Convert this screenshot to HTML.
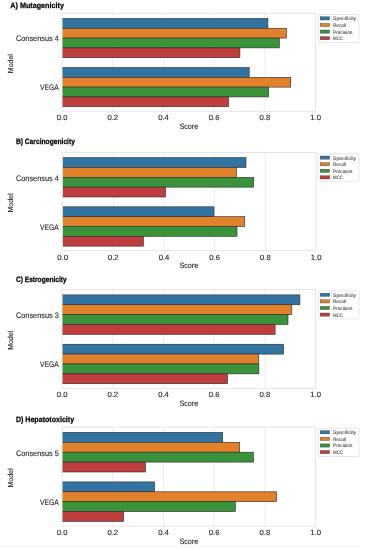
<!DOCTYPE html>
<html><head><meta charset="utf-8"><style>
html,body{margin:0;padding:0;background:#fff;width:365px;height:550px;overflow:hidden}
svg{display:block;font-family:"Liberation Sans", sans-serif;will-change:transform;text-rendering:geometricPrecision}
</style></head><body>
<svg width="365" height="550" viewBox="0 0 365 550">
<rect width="365" height="550" fill="#fff"/>
<line x1="112.80" y1="13.20" x2="112.80" y2="111.30" stroke="#ebebeb" stroke-width="0.9"/>
<line x1="163.50" y1="13.20" x2="163.50" y2="111.30" stroke="#ebebeb" stroke-width="0.9"/>
<line x1="214.20" y1="13.20" x2="214.20" y2="111.30" stroke="#ebebeb" stroke-width="0.9"/>
<line x1="264.90" y1="13.20" x2="264.90" y2="111.30" stroke="#ebebeb" stroke-width="0.9"/>
<clipPath id="cA"><rect x="62.10" y="11.20" width="258.50" height="102.10"/></clipPath>
<g clip-path="url(#cA)">
<rect x="60.10" y="18.45" width="207.80" height="9.81" fill="#3274a1" stroke="#2a2a2a" stroke-width="0.6"/>
<rect x="60.10" y="28.27" width="226.40" height="9.81" fill="#e1812c" stroke="#2a2a2a" stroke-width="0.6"/>
<rect x="60.10" y="38.07" width="219.20" height="9.81" fill="#3a923a" stroke="#2a2a2a" stroke-width="0.6"/>
<rect x="60.10" y="47.88" width="179.80" height="9.81" fill="#c03d3e" stroke="#2a2a2a" stroke-width="0.6"/>
<rect x="60.10" y="67.50" width="189.10" height="9.81" fill="#3274a1" stroke="#2a2a2a" stroke-width="0.6"/>
<rect x="60.10" y="77.31" width="230.60" height="9.81" fill="#e1812c" stroke="#2a2a2a" stroke-width="0.6"/>
<rect x="60.10" y="87.12" width="208.50" height="9.81" fill="#3a923a" stroke="#2a2a2a" stroke-width="0.6"/>
<rect x="60.10" y="96.94" width="168.50" height="9.81" fill="#c03d3e" stroke="#2a2a2a" stroke-width="0.6"/>
</g>
<rect x="62.10" y="13.20" width="253.50" height="98.10" fill="none" stroke="#e0e0e0" stroke-width="0.8"/>
<text x="16.00" y="41.12" font-size="8.0" fill="#262626" stroke="#262626" stroke-width="0.12" textLength="42.8" lengthAdjust="spacingAndGlyphs">Consensus 4</text>
<text x="40.10" y="90.17" font-size="8.0" fill="#262626" stroke="#262626" stroke-width="0.12" textLength="18.7" lengthAdjust="spacingAndGlyphs">VEGA</text>
<text x="56.75" y="120.10" font-size="7.6" fill="#262626" stroke="#262626" stroke-width="0.12" textLength="10.7" lengthAdjust="spacingAndGlyphs">0.0</text>
<text x="107.45" y="120.10" font-size="7.6" fill="#262626" stroke="#262626" stroke-width="0.12" textLength="10.7" lengthAdjust="spacingAndGlyphs">0.2</text>
<text x="158.15" y="120.10" font-size="7.6" fill="#262626" stroke="#262626" stroke-width="0.12" textLength="10.7" lengthAdjust="spacingAndGlyphs">0.4</text>
<text x="208.85" y="120.10" font-size="7.6" fill="#262626" stroke="#262626" stroke-width="0.12" textLength="10.7" lengthAdjust="spacingAndGlyphs">0.6</text>
<text x="259.55" y="120.10" font-size="7.6" fill="#262626" stroke="#262626" stroke-width="0.12" textLength="10.7" lengthAdjust="spacingAndGlyphs">0.8</text>
<text x="310.25" y="120.10" font-size="7.6" fill="#262626" stroke="#262626" stroke-width="0.12" textLength="10.7" lengthAdjust="spacingAndGlyphs">1.0</text>
<text x="179.45" y="128.70" font-size="7.8" fill="#262626" stroke="#262626" stroke-width="0.12" textLength="18.8" lengthAdjust="spacingAndGlyphs">Score</text>
<text transform="translate(13.10,73.15) rotate(-90)" x="0" y="0" font-size="7.3" fill="#262626" stroke="#262626" stroke-width="0.12" textLength="19.0" lengthAdjust="spacingAndGlyphs">Model</text>
<text x="10.30" y="8.20" font-size="7.8" font-weight="bold" fill="#000" stroke="#000" stroke-width="0.25" textLength="53.6" lengthAdjust="spacingAndGlyphs">A) Mutagenicity</text>
<rect x="318.1" y="14.50" width="40.9" height="28.1" rx="0.8" fill="#fff" stroke="#d8d8d8" stroke-width="0.6"/>
<rect x="320.2" y="16.80" width="9.4" height="3.2" fill="#3274a1" stroke="#333" stroke-width="0.35"/>
<text x="333.0" y="20.30" font-size="4.9" fill="#444" stroke="#444" stroke-width="0.08" textLength="23.2" lengthAdjust="spacingAndGlyphs">Specificity</text>
<rect x="320.2" y="23.40" width="9.4" height="3.2" fill="#e1812c" stroke="#333" stroke-width="0.35"/>
<text x="333.0" y="26.90" font-size="4.9" fill="#444" stroke="#444" stroke-width="0.08" textLength="12.8" lengthAdjust="spacingAndGlyphs">Recall</text>
<rect x="320.2" y="30.00" width="9.4" height="3.2" fill="#3a923a" stroke="#333" stroke-width="0.35"/>
<text x="333.0" y="33.50" font-size="4.9" fill="#444" stroke="#444" stroke-width="0.08" textLength="19.5" lengthAdjust="spacingAndGlyphs">Precision</text>
<rect x="320.2" y="36.60" width="9.4" height="3.2" fill="#c03d3e" stroke="#333" stroke-width="0.35"/>
<text x="333.0" y="40.10" font-size="4.9" fill="#444" stroke="#444" stroke-width="0.08" textLength="10.0" lengthAdjust="spacingAndGlyphs">MCC</text>
<line x1="113.30" y1="152.40" x2="113.30" y2="250.70" stroke="#ebebeb" stroke-width="0.9"/>
<line x1="164.00" y1="152.40" x2="164.00" y2="250.70" stroke="#ebebeb" stroke-width="0.9"/>
<line x1="214.70" y1="152.40" x2="214.70" y2="250.70" stroke="#ebebeb" stroke-width="0.9"/>
<line x1="265.40" y1="152.40" x2="265.40" y2="250.70" stroke="#ebebeb" stroke-width="0.9"/>
<clipPath id="cB"><rect x="62.60" y="150.40" width="258.50" height="102.30"/></clipPath>
<g clip-path="url(#cB)">
<rect x="60.60" y="157.66" width="185.40" height="9.83" fill="#3274a1" stroke="#2a2a2a" stroke-width="0.6"/>
<rect x="60.60" y="167.50" width="175.80" height="9.83" fill="#e1812c" stroke="#2a2a2a" stroke-width="0.6"/>
<rect x="60.60" y="177.32" width="193.10" height="9.83" fill="#3a923a" stroke="#2a2a2a" stroke-width="0.6"/>
<rect x="60.60" y="187.16" width="105.00" height="9.83" fill="#c03d3e" stroke="#2a2a2a" stroke-width="0.6"/>
<rect x="60.60" y="206.81" width="153.40" height="9.83" fill="#3274a1" stroke="#2a2a2a" stroke-width="0.6"/>
<rect x="60.60" y="216.64" width="184.10" height="9.83" fill="#e1812c" stroke="#2a2a2a" stroke-width="0.6"/>
<rect x="60.60" y="226.47" width="176.40" height="9.83" fill="#3a923a" stroke="#2a2a2a" stroke-width="0.6"/>
<rect x="60.60" y="236.31" width="82.80" height="9.83" fill="#c03d3e" stroke="#2a2a2a" stroke-width="0.6"/>
</g>
<rect x="62.60" y="152.40" width="253.50" height="98.30" fill="none" stroke="#e0e0e0" stroke-width="0.8"/>
<text x="16.00" y="180.78" font-size="8.0" fill="#262626" stroke="#262626" stroke-width="0.12" textLength="42.8" lengthAdjust="spacingAndGlyphs">Consensus 4</text>
<text x="40.10" y="229.93" font-size="8.0" fill="#262626" stroke="#262626" stroke-width="0.12" textLength="18.7" lengthAdjust="spacingAndGlyphs">VEGA</text>
<text x="57.25" y="260.00" font-size="7.6" fill="#262626" stroke="#262626" stroke-width="0.12" textLength="10.7" lengthAdjust="spacingAndGlyphs">0.0</text>
<text x="107.95" y="260.00" font-size="7.6" fill="#262626" stroke="#262626" stroke-width="0.12" textLength="10.7" lengthAdjust="spacingAndGlyphs">0.2</text>
<text x="158.65" y="260.00" font-size="7.6" fill="#262626" stroke="#262626" stroke-width="0.12" textLength="10.7" lengthAdjust="spacingAndGlyphs">0.4</text>
<text x="209.35" y="260.00" font-size="7.6" fill="#262626" stroke="#262626" stroke-width="0.12" textLength="10.7" lengthAdjust="spacingAndGlyphs">0.6</text>
<text x="260.05" y="260.00" font-size="7.6" fill="#262626" stroke="#262626" stroke-width="0.12" textLength="10.7" lengthAdjust="spacingAndGlyphs">0.8</text>
<text x="310.75" y="260.00" font-size="7.6" fill="#262626" stroke="#262626" stroke-width="0.12" textLength="10.7" lengthAdjust="spacingAndGlyphs">1.0</text>
<text x="179.45" y="268.10" font-size="7.8" fill="#262626" stroke="#262626" stroke-width="0.12" textLength="18.8" lengthAdjust="spacingAndGlyphs">Score</text>
<text transform="translate(13.10,212.45) rotate(-90)" x="0" y="0" font-size="7.3" fill="#262626" stroke="#262626" stroke-width="0.12" textLength="19.0" lengthAdjust="spacingAndGlyphs">Model</text>
<text x="15.90" y="144.40" font-size="7.8" font-weight="bold" fill="#000" stroke="#000" stroke-width="0.25" textLength="59.0" lengthAdjust="spacingAndGlyphs">B) Carcinogenicity</text>
<rect x="318.1" y="153.70" width="40.9" height="28.1" rx="0.8" fill="#fff" stroke="#d8d8d8" stroke-width="0.6"/>
<rect x="320.2" y="156.00" width="9.4" height="3.2" fill="#3274a1" stroke="#333" stroke-width="0.35"/>
<text x="333.0" y="159.50" font-size="4.9" fill="#444" stroke="#444" stroke-width="0.08" textLength="23.2" lengthAdjust="spacingAndGlyphs">Specificity</text>
<rect x="320.2" y="162.60" width="9.4" height="3.2" fill="#e1812c" stroke="#333" stroke-width="0.35"/>
<text x="333.0" y="166.10" font-size="4.9" fill="#444" stroke="#444" stroke-width="0.08" textLength="12.8" lengthAdjust="spacingAndGlyphs">Recall</text>
<rect x="320.2" y="169.20" width="9.4" height="3.2" fill="#3a923a" stroke="#333" stroke-width="0.35"/>
<text x="333.0" y="172.70" font-size="4.9" fill="#444" stroke="#444" stroke-width="0.08" textLength="19.5" lengthAdjust="spacingAndGlyphs">Precision</text>
<rect x="320.2" y="175.80" width="9.4" height="3.2" fill="#c03d3e" stroke="#333" stroke-width="0.35"/>
<text x="333.0" y="179.30" font-size="4.9" fill="#444" stroke="#444" stroke-width="0.08" textLength="10.0" lengthAdjust="spacingAndGlyphs">MCC</text>
<line x1="112.80" y1="289.60" x2="112.80" y2="388.30" stroke="#ebebeb" stroke-width="0.9"/>
<line x1="163.50" y1="289.60" x2="163.50" y2="388.30" stroke="#ebebeb" stroke-width="0.9"/>
<line x1="214.20" y1="289.60" x2="214.20" y2="388.30" stroke="#ebebeb" stroke-width="0.9"/>
<line x1="264.90" y1="289.60" x2="264.90" y2="388.30" stroke="#ebebeb" stroke-width="0.9"/>
<clipPath id="cC"><rect x="62.10" y="287.60" width="258.50" height="102.70"/></clipPath>
<g clip-path="url(#cC)">
<rect x="60.10" y="294.89" width="239.80" height="9.87" fill="#3274a1" stroke="#2a2a2a" stroke-width="0.6"/>
<rect x="60.10" y="304.76" width="231.70" height="9.87" fill="#e1812c" stroke="#2a2a2a" stroke-width="0.6"/>
<rect x="60.10" y="314.63" width="227.90" height="9.87" fill="#3a923a" stroke="#2a2a2a" stroke-width="0.6"/>
<rect x="60.10" y="324.50" width="215.00" height="9.87" fill="#c03d3e" stroke="#2a2a2a" stroke-width="0.6"/>
<rect x="60.10" y="344.24" width="223.50" height="9.87" fill="#3274a1" stroke="#2a2a2a" stroke-width="0.6"/>
<rect x="60.10" y="354.11" width="198.60" height="9.87" fill="#e1812c" stroke="#2a2a2a" stroke-width="0.6"/>
<rect x="60.10" y="363.98" width="198.80" height="9.87" fill="#3a923a" stroke="#2a2a2a" stroke-width="0.6"/>
<rect x="60.10" y="373.85" width="167.40" height="9.87" fill="#c03d3e" stroke="#2a2a2a" stroke-width="0.6"/>
</g>
<rect x="62.10" y="289.60" width="253.50" height="98.70" fill="none" stroke="#e0e0e0" stroke-width="0.8"/>
<text x="16.00" y="318.08" font-size="8.0" fill="#262626" stroke="#262626" stroke-width="0.12" textLength="42.8" lengthAdjust="spacingAndGlyphs">Consensus 3</text>
<text x="40.10" y="367.43" font-size="8.0" fill="#262626" stroke="#262626" stroke-width="0.12" textLength="18.7" lengthAdjust="spacingAndGlyphs">VEGA</text>
<text x="56.75" y="396.90" font-size="7.6" fill="#262626" stroke="#262626" stroke-width="0.12" textLength="10.7" lengthAdjust="spacingAndGlyphs">0.0</text>
<text x="107.45" y="396.90" font-size="7.6" fill="#262626" stroke="#262626" stroke-width="0.12" textLength="10.7" lengthAdjust="spacingAndGlyphs">0.2</text>
<text x="158.15" y="396.90" font-size="7.6" fill="#262626" stroke="#262626" stroke-width="0.12" textLength="10.7" lengthAdjust="spacingAndGlyphs">0.4</text>
<text x="208.85" y="396.90" font-size="7.6" fill="#262626" stroke="#262626" stroke-width="0.12" textLength="10.7" lengthAdjust="spacingAndGlyphs">0.6</text>
<text x="259.55" y="396.90" font-size="7.6" fill="#262626" stroke="#262626" stroke-width="0.12" textLength="10.7" lengthAdjust="spacingAndGlyphs">0.8</text>
<text x="310.25" y="396.90" font-size="7.6" fill="#262626" stroke="#262626" stroke-width="0.12" textLength="10.7" lengthAdjust="spacingAndGlyphs">1.0</text>
<text x="179.45" y="405.70" font-size="7.8" fill="#262626" stroke="#262626" stroke-width="0.12" textLength="18.8" lengthAdjust="spacingAndGlyphs">Score</text>
<text transform="translate(13.10,349.85) rotate(-90)" x="0" y="0" font-size="7.3" fill="#262626" stroke="#262626" stroke-width="0.12" textLength="19.0" lengthAdjust="spacingAndGlyphs">Model</text>
<text x="15.90" y="282.40" font-size="7.8" font-weight="bold" fill="#000" stroke="#000" stroke-width="0.25" textLength="50.8" lengthAdjust="spacingAndGlyphs">C) Estrogenicity</text>
<rect x="318.1" y="290.90" width="40.9" height="28.1" rx="0.8" fill="#fff" stroke="#d8d8d8" stroke-width="0.6"/>
<rect x="320.2" y="293.20" width="9.4" height="3.2" fill="#3274a1" stroke="#333" stroke-width="0.35"/>
<text x="333.0" y="296.70" font-size="4.9" fill="#444" stroke="#444" stroke-width="0.08" textLength="23.2" lengthAdjust="spacingAndGlyphs">Specificity</text>
<rect x="320.2" y="299.80" width="9.4" height="3.2" fill="#e1812c" stroke="#333" stroke-width="0.35"/>
<text x="333.0" y="303.30" font-size="4.9" fill="#444" stroke="#444" stroke-width="0.08" textLength="12.8" lengthAdjust="spacingAndGlyphs">Recall</text>
<rect x="320.2" y="306.40" width="9.4" height="3.2" fill="#3a923a" stroke="#333" stroke-width="0.35"/>
<text x="333.0" y="309.90" font-size="4.9" fill="#444" stroke="#444" stroke-width="0.08" textLength="19.5" lengthAdjust="spacingAndGlyphs">Precision</text>
<rect x="320.2" y="313.00" width="9.4" height="3.2" fill="#c03d3e" stroke="#333" stroke-width="0.35"/>
<text x="333.0" y="316.50" font-size="4.9" fill="#444" stroke="#444" stroke-width="0.08" textLength="10.0" lengthAdjust="spacingAndGlyphs">MCC</text>
<line x1="112.80" y1="427.10" x2="112.80" y2="526.10" stroke="#ebebeb" stroke-width="0.9"/>
<line x1="163.50" y1="427.10" x2="163.50" y2="526.10" stroke="#ebebeb" stroke-width="0.9"/>
<line x1="214.20" y1="427.10" x2="214.20" y2="526.10" stroke="#ebebeb" stroke-width="0.9"/>
<line x1="264.90" y1="427.10" x2="264.90" y2="526.10" stroke="#ebebeb" stroke-width="0.9"/>
<clipPath id="cD"><rect x="62.10" y="425.10" width="258.50" height="103.00"/></clipPath>
<g clip-path="url(#cD)">
<rect x="60.10" y="432.40" width="162.60" height="9.90" fill="#3274a1" stroke="#2a2a2a" stroke-width="0.6"/>
<rect x="60.10" y="442.30" width="179.60" height="9.90" fill="#e1812c" stroke="#2a2a2a" stroke-width="0.6"/>
<rect x="60.10" y="452.20" width="193.40" height="9.90" fill="#3a923a" stroke="#2a2a2a" stroke-width="0.6"/>
<rect x="60.10" y="462.10" width="85.30" height="9.90" fill="#c03d3e" stroke="#2a2a2a" stroke-width="0.6"/>
<rect x="60.10" y="481.90" width="94.50" height="9.90" fill="#3274a1" stroke="#2a2a2a" stroke-width="0.6"/>
<rect x="60.10" y="491.80" width="216.40" height="9.90" fill="#e1812c" stroke="#2a2a2a" stroke-width="0.6"/>
<rect x="60.10" y="501.70" width="175.20" height="9.90" fill="#3a923a" stroke="#2a2a2a" stroke-width="0.6"/>
<rect x="60.10" y="511.60" width="63.40" height="9.90" fill="#c03d3e" stroke="#2a2a2a" stroke-width="0.6"/>
</g>
<rect x="62.10" y="427.10" width="253.50" height="99.00" fill="none" stroke="#e0e0e0" stroke-width="0.8"/>
<text x="16.00" y="455.85" font-size="8.0" fill="#262626" stroke="#262626" stroke-width="0.12" textLength="42.8" lengthAdjust="spacingAndGlyphs">Consensus 5</text>
<text x="40.10" y="505.35" font-size="8.0" fill="#262626" stroke="#262626" stroke-width="0.12" textLength="18.7" lengthAdjust="spacingAndGlyphs">VEGA</text>
<text x="56.75" y="535.40" font-size="7.6" fill="#262626" stroke="#262626" stroke-width="0.12" textLength="10.7" lengthAdjust="spacingAndGlyphs">0.0</text>
<text x="107.45" y="535.40" font-size="7.6" fill="#262626" stroke="#262626" stroke-width="0.12" textLength="10.7" lengthAdjust="spacingAndGlyphs">0.2</text>
<text x="158.15" y="535.40" font-size="7.6" fill="#262626" stroke="#262626" stroke-width="0.12" textLength="10.7" lengthAdjust="spacingAndGlyphs">0.4</text>
<text x="208.85" y="535.40" font-size="7.6" fill="#262626" stroke="#262626" stroke-width="0.12" textLength="10.7" lengthAdjust="spacingAndGlyphs">0.6</text>
<text x="259.55" y="535.40" font-size="7.6" fill="#262626" stroke="#262626" stroke-width="0.12" textLength="10.7" lengthAdjust="spacingAndGlyphs">0.8</text>
<text x="310.25" y="535.40" font-size="7.6" fill="#262626" stroke="#262626" stroke-width="0.12" textLength="10.7" lengthAdjust="spacingAndGlyphs">1.0</text>
<text x="179.45" y="543.50" font-size="7.8" fill="#262626" stroke="#262626" stroke-width="0.12" textLength="18.8" lengthAdjust="spacingAndGlyphs">Score</text>
<text transform="translate(13.10,487.50) rotate(-90)" x="0" y="0" font-size="7.3" fill="#262626" stroke="#262626" stroke-width="0.12" textLength="19.0" lengthAdjust="spacingAndGlyphs">Model</text>
<text x="15.90" y="421.50" font-size="7.8" font-weight="bold" fill="#000" stroke="#000" stroke-width="0.25" textLength="58.2" lengthAdjust="spacingAndGlyphs">D) Hepatotoxicity</text>
<rect x="318.1" y="428.40" width="40.9" height="28.1" rx="0.8" fill="#fff" stroke="#d8d8d8" stroke-width="0.6"/>
<rect x="320.2" y="430.70" width="9.4" height="3.2" fill="#3274a1" stroke="#333" stroke-width="0.35"/>
<text x="333.0" y="434.20" font-size="4.9" fill="#444" stroke="#444" stroke-width="0.08" textLength="23.2" lengthAdjust="spacingAndGlyphs">Specificity</text>
<rect x="320.2" y="437.30" width="9.4" height="3.2" fill="#e1812c" stroke="#333" stroke-width="0.35"/>
<text x="333.0" y="440.80" font-size="4.9" fill="#444" stroke="#444" stroke-width="0.08" textLength="12.8" lengthAdjust="spacingAndGlyphs">Recall</text>
<rect x="320.2" y="443.90" width="9.4" height="3.2" fill="#3a923a" stroke="#333" stroke-width="0.35"/>
<text x="333.0" y="447.40" font-size="4.9" fill="#444" stroke="#444" stroke-width="0.08" textLength="19.5" lengthAdjust="spacingAndGlyphs">Precision</text>
<rect x="320.2" y="450.50" width="9.4" height="3.2" fill="#c03d3e" stroke="#333" stroke-width="0.35"/>
<text x="333.0" y="454.00" font-size="4.9" fill="#444" stroke="#444" stroke-width="0.08" textLength="10.0" lengthAdjust="spacingAndGlyphs">MCC</text>
<line x1="2" y1="546.6" x2="359.6" y2="546.6" stroke="#f8f8f8" stroke-width="1"/>
</svg>
</body></html>
